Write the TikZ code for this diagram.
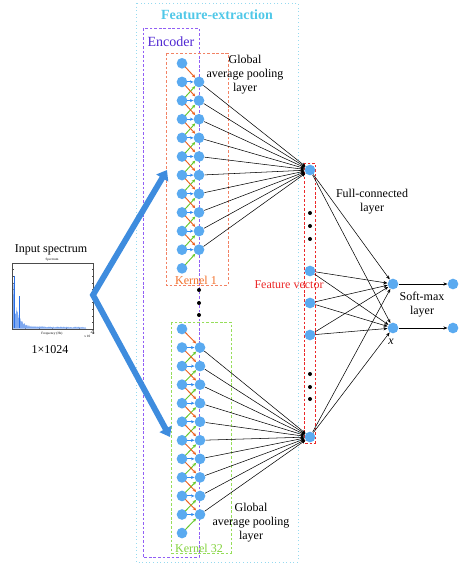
\documentclass[tikz,border=0pt]{standalone}
\usepackage{fontspec}
\setmainfont{Liberation Serif}
\usetikzlibrary{arrows.meta}
\definecolor{nblue}{RGB}{90,170,240}
\definecolor{bigarrow}{RGB}{62,140,222}
\definecolor{cyantitle}{RGB}{80,200,232}
\definecolor{cyanbox}{RGB}{150,218,240}
\definecolor{encpurple}{RGB}{145,95,245}
\definecolor{enctext}{RGB}{80,40,210}
\definecolor{kaline}{RGB}{242,130,100}
\definecolor{katext}{RGB}{242,110,40}
\definecolor{kbline}{RGB}{150,222,90}
\definecolor{kbtext}{RGB}{130,210,60}
\definecolor{forange}{RGB}{235,95,30}
\definecolor{fgreen}{RGB}{100,200,40}
\definecolor{fblue}{RGB}{50,140,240}
\definecolor{fvred}{RGB}{235,40,40}
\definecolor{specblue}{RGB}{40,110,230}
\begin{document}
\begin{tikzpicture}[x=0.75pt,y=-0.75pt,
  neuron/.style={circle,fill=nblue,inner sep=0pt,minimum size=8pt},
  bigdot/.style={circle,fill=black,inner sep=0pt,minimum size=3pt},
  ka/.style={line width=0.7pt,-{Stealth[length=2.6pt,width=2.4pt]},shorten <=-0.5pt},
  fcline/.style={line width=0.4pt,-{Stealth[length=3pt,width=2.4pt]}},
  lbl/.style={font=\fontsize{9}{10.5}\selectfont,align=center,inner sep=0pt},
  boxline/.style={line width=0.7pt,dash pattern=on 2pt off 1.4pt},
  bigarr/.style={bigarrow,line width=4.4pt,line join=miter,
     {Triangle[length=7pt,width=10pt]}-{Triangle[length=7pt,width=10pt]}}
]
\useasboundingbox (0,0) rectangle (474,566);

% ---------- boxes ----------
\draw[cyanbox,dotted,line width=0.7pt] (136,3) rectangle (298,562);
\draw[encpurple,boxline] (143,28) rectangle (199,557);
\draw[kaline,boxline] (166,53) rectangle (228,285);
\draw[kbline,boxline] (171,322) rectangle (231,553);
\draw[fvred,boxline] (304,163) rectangle (315,443);

\node[font=\fontsize{10.5}{12}\selectfont\bfseries,text=cyantitle] (title) at (217,15) {Feature-extraction};
\node[font=\fontsize{10.5}{12}\selectfont,text=enctext] (enc) at (171,42) {Encoder};
\node[lbl,text=katext] (k1lab) at (196,280) {Kernel 1};
\node[lbl,text=kbtext] (k32lab) at (199,548) {Kernel 32};
\node[lbl,text=fvred] (fvlab) at (289,285) {Feature vector};

% ---------- feature vector / softmax ----------
\node[neuron] (f1) at (310,170) {};
\node[neuron] (f2) at (310,271) {};
\node[neuron] (f3) at (310,303) {};
\node[neuron] (f4) at (310,335) {};
\node[neuron] (f5) at (310,437) {};
\node[neuron] (s1) at (393,284) {};
\node[neuron] (s2) at (393,328) {};
\node[neuron] (o1) at (453,284) {};
\node[neuron] (o2) at (453,328) {};

\foreach \f in {f1,f2,f3,f4,f5}{
  \draw[fcline] (\f) -- (s1);
  \draw[fcline] (\f) -- (s2);
}
\draw[fcline] (s1) -- (o1);
\draw[fcline] (s2) -- (o2);

\node[bigdot] (d1) at (310,213) {};
\node[bigdot] (d2) at (310,226) {};
\node[bigdot] (d3) at (310,239) {};
\node[bigdot] (d4) at (310,374) {};
\node[bigdot] (d5) at (310,387) {};
\node[bigdot] (d6) at (310,399) {};
\node[bigdot] (d7) at (199,290) {};
\node[bigdot] (d8) at (199,303) {};
\node[bigdot] (d9) at (199,315) {};

% ---------- kernel 1 ----------
\foreach \i in {1,...,12}{
  \node[neuron] (a\i) at (182,{63.3+(\i-1)*18.64}) {};
}
\foreach \i in {2,...,11}{
  \node[neuron] (b\i) at (199,{63.3+(\i-1)*18.64}) {};
}
\foreach \i in {2,...,11}{
  \pgfmathtruncatemacro\p{\i-1}
  \pgfmathtruncatemacro\n{\i+1}
  \draw[ka,fblue] (a\i) -- (b\i);
  \draw[ka,forange] (a\p) -- (b\i);
  \draw[ka,fgreen] (a\n) -- (b\i);
  \draw[fcline] (b\i) -- (f1);
}

% ---------- kernel 32 ----------
\foreach \i in {1,...,12}{
  \node[neuron] (c\i) at (182,{329+(\i-1)*18.55}) {};
}
\foreach \i in {2,...,11}{
  \node[neuron] (e\i) at (200,{329+(\i-1)*18.55}) {};
}
\foreach \i in {2,...,11}{
  \pgfmathtruncatemacro\p{\i-1}
  \pgfmathtruncatemacro\n{\i+1}
  \draw[ka,fblue] (c\i) -- (e\i);
  \draw[ka,forange] (c\p) -- (e\i);
  \draw[ka,fgreen] (c\n) -- (e\i);
  \draw[fcline] (e\i) -- (f5);
}

% ---------- labels ----------
\node[lbl] (gap1) at (245,75) {Global\\average pooling\\layer};
\node[lbl] (gap2) at (251,523) {Global\\average pooling\\layer};
\node[lbl] (fcl) at (372,202) {Full-connected\\layer};
\node[lbl] (sml) at (422,305) {Soft-max\\layer};
\node[lbl,font=\fontsize{9}{10.5}\selectfont\itshape] (xl) at (391,342) {x};

% ---------- input spectrum ----------
\node[lbl] (inl) at (51,250) {Input spectrum};
\node[lbl] (dim) at (50,350) {1×1024};
\draw[line width=0.3pt,black!70] (12,263) rectangle (93,329);
\foreach \k in {0,...,10}{
  \draw[line width=0.2pt,black!70] (12,{263+\k*6.6}) -- (13.5,{263+\k*6.6});
  \draw[line width=0.2pt,black!70] (93,{263+\k*6.6}) -- (91.5,{263+\k*6.6});
}
\foreach \k in {0,...,5}{
  \draw[line width=0.2pt,black!70] ({12+\k*13.5},329) -- ({12+\k*13.5},327.5);
}
\node[font=\fontsize{2.5}{3}\selectfont,inner sep=0pt] (sptitle) at (52,260) {Spectrum};
\node[font=\fontsize{2.5}{3}\selectfont,inner sep=0pt] (spx) at (52,334) {Frequency (Hz)};
\node[font=\fontsize{2.5}{3}\selectfont,inner sep=0pt] (spe) at (90,334) {x 10$^4$};
\pgfmathsetseed{7}
\fill[specblue!60] (13,328.5) -- plot[domain=13:86,samples=260]
   (\x,{328.5-(52*exp(-(\x-13)/3.6)+1.8+4*exp(-(\x-13)/12))*(0.35+0.65*rnd)}) -- (86,328.5) -- cycle;
\draw[specblue,line width=0.35pt] (19,328) -- (19,296);
\draw[specblue,line width=0.3pt] (14,328) -- (14,276);

% ---------- big arrows ----------
\coordinate (apex) at (93,295);
\coordinate (up) at (167,170);
\coordinate (dn) at (170,437);
\draw[bigarr] (up) -- (apex) -- (dn);
\end{tikzpicture}
\end{document}
